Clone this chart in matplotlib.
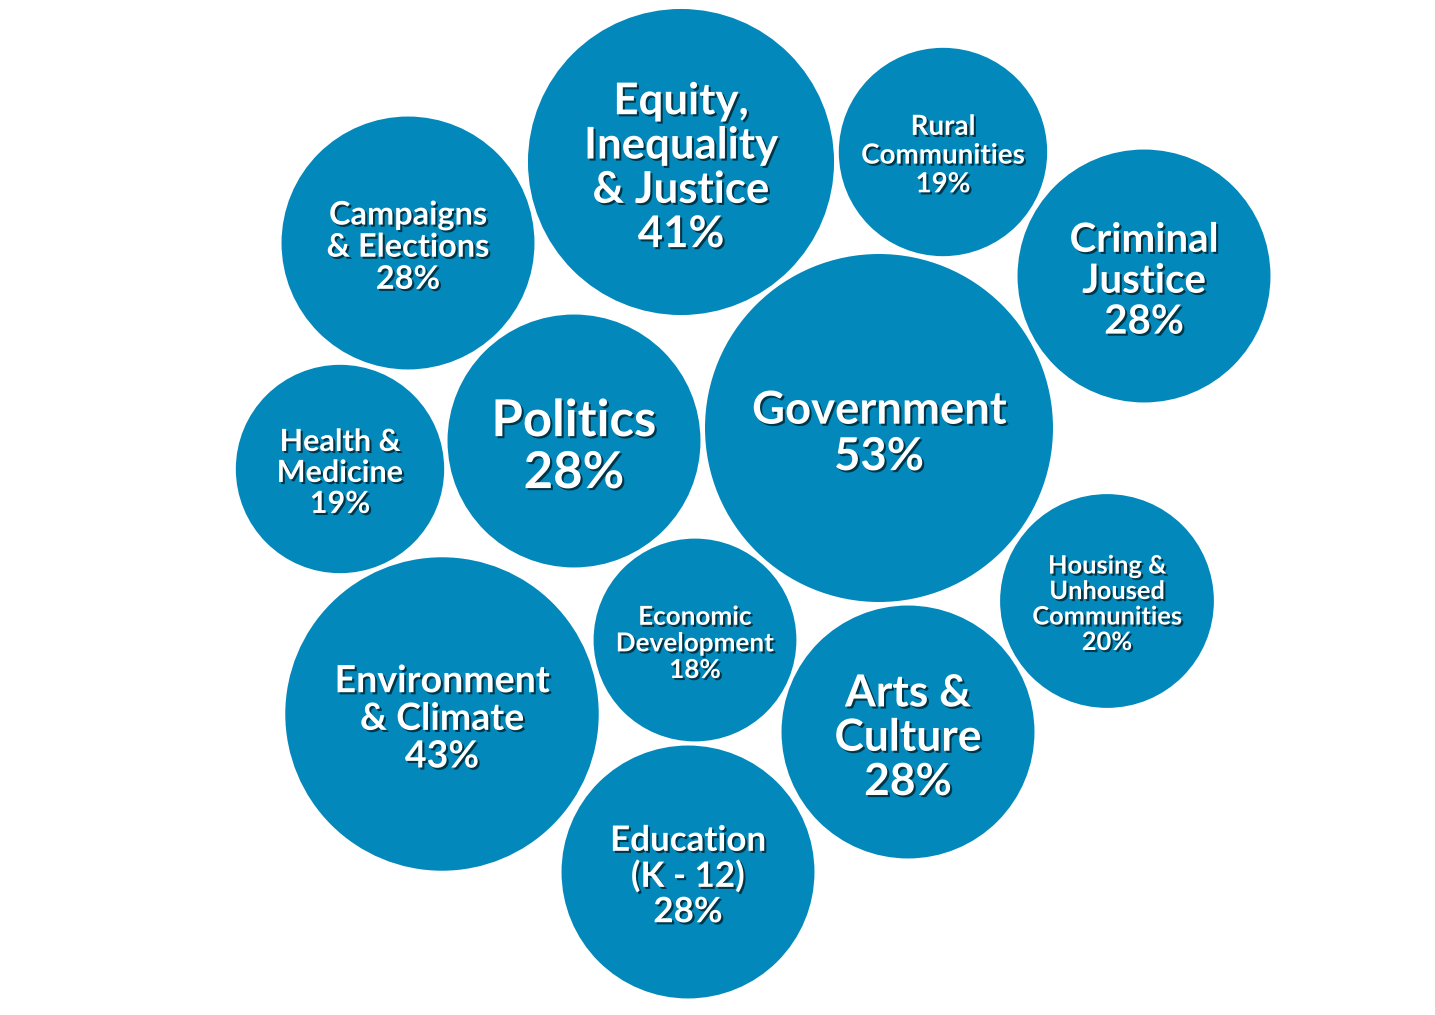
import numpy as np
import matplotlib.pyplot as plt
from matplotlib.patches import Circle
import matplotlib.patheffects as pe

# topics and share of respondents (%)
topics = ["Equity,\nInequality\n& Justice", "Rural\nCommunities", "Campaigns\n& Elections",
          "Criminal\nJustice", "Politics", "Government", "Health &\nMedicine",
          "Housing &\nUnhoused\nCommunities", "Economic\nDevelopment",
          "Environment\n& Climate", "Arts &\nCulture", "Education\n(K - 12)"]
pct = [41, 19, 28, 28, 28, 53, 19, 20, 18, 43, 28, 28]

# bubble layout (pixel coordinates) and label sizes
cx = [681, 943, 408, 1144, 574, 879, 340, 1107, 695, 442, 908, 688]
cy = [162, 152, 243, 276, 441, 428, 469, 601, 640, 714, 732, 872]
fsize = [31.5, 20, 23.4, 29, 36.6, 32.7, 22, 18.3, 18.8, 27, 31.9, 25.2]

color = "#0288BA"
scale = 23.9  # pixels per sqrt(percent)

fig = plt.figure(figsize=(14.35, 10.15), dpi=100)
ax = fig.add_axes([0, 0, 1, 1])
ax.set_xlim(0, 1435)
ax.set_ylim(1015, 0)
ax.set_aspect("equal")
ax.axis("off")

shadow = [pe.SimplePatchShadow(offset=(1.5, -1.5), shadow_rgbFace="black", alpha=0.6), pe.Normal()]

for name, p, x, y, fs in zip(topics, pct, cx, cy, fsize):
    ax.add_patch(Circle((x, y), scale * np.sqrt(p), color=color, lw=0))
    # nudge labels down a little so the caps sit on the bubble centre
    ax.text(x, y + 0.18 * fs, f"{name}\n{p}%", ha="center", va="center", color="white",
            fontsize=fs, fontweight="bold", family="Lato", linespacing=1.13,
            path_effects=shadow)

plt.savefig("out.png")
